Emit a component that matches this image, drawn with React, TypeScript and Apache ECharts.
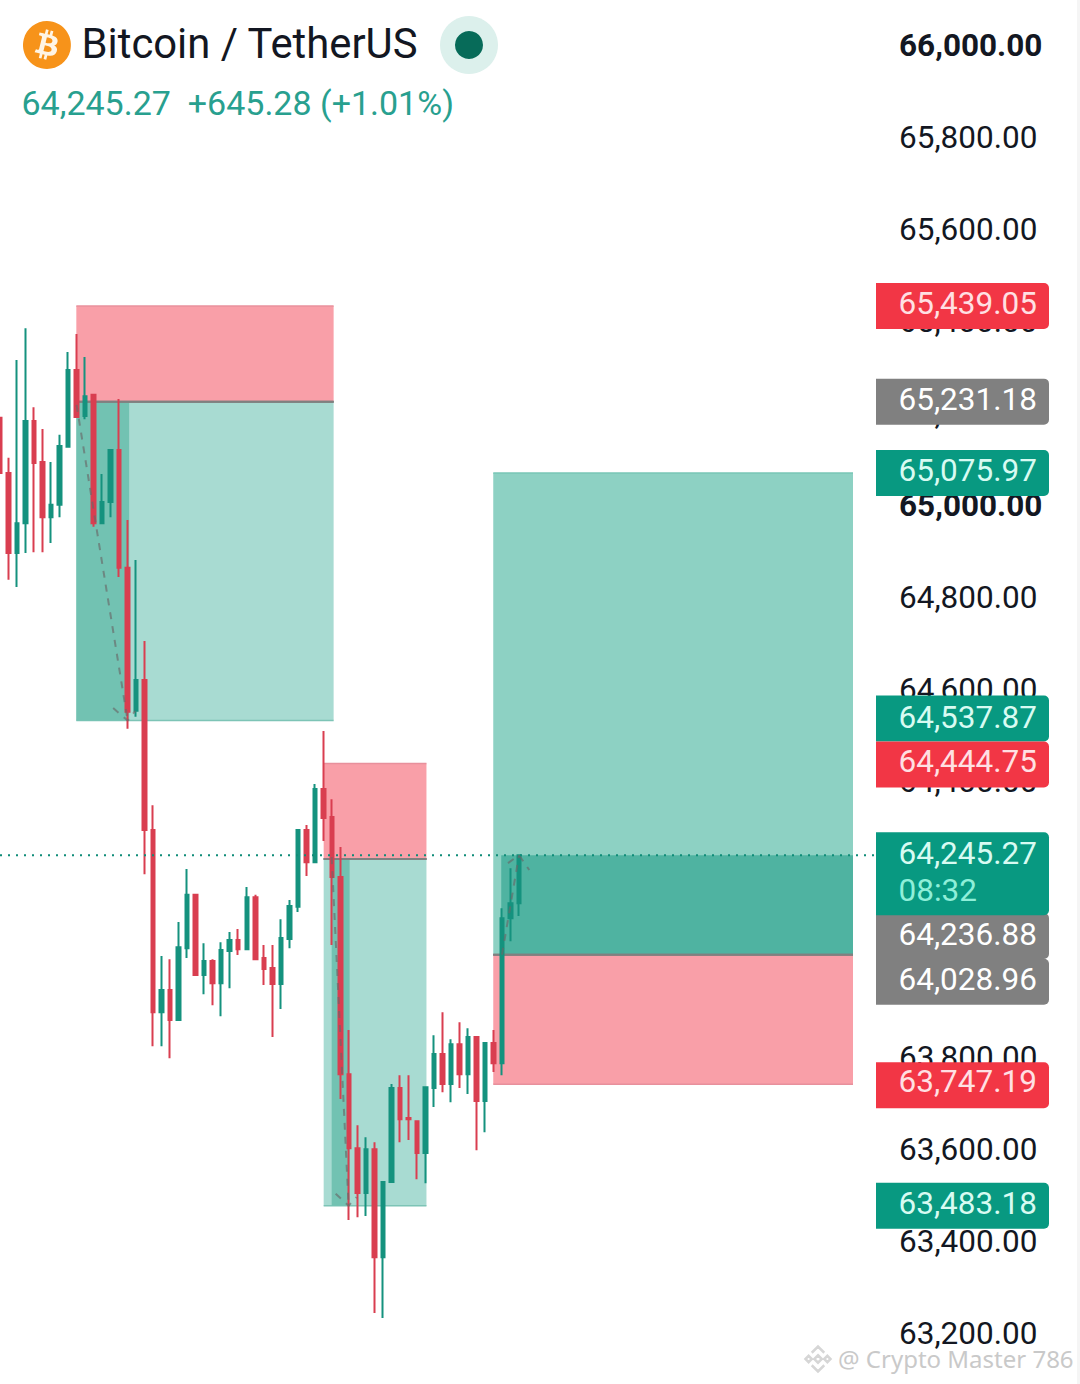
import React, { useEffect, useRef } from "react";
import * as echarts from "echarts";

const titleText = "Bitcoin / TetherUS";
const quoteText = "64,245.27  +645.28 (+1.01%)";
const watermarkText = "@ Crypto Master 786";
const currentPrice = 64245.27;
const countdown = "08:32";

const opens = [65196,65076,64902,64967,65189,65100,64980,65007,65133,65300,65200,65246,64967,65013,65126,64870,64559,64626,64300,63904,63952,63887,64043,64159,63985,64015,63967,64037,64061,64041,64154,64022,64000,63965,64063,64133,64300,64230,64389,64328,64198,63769,63608,63511,63606,63371,63535,63739,63674,63667,63598,63739,63813,63748,63834,63769,63850,63711,63837,63793,64108,64141];
const closes = [65076,64902,64967,65189,65098,64980,65007,65135,65300,65198,65243,64967,65013,65126,64870,64557,64626,64300,63904,63952,63887,64045,64159,63985,64015,63967,64039,64061,64041,64154,64019,63998,63965,64065,64135,64300,64230,64389,64326,64198,63769,63608,63511,63606,63371,63535,63739,63671,63671,63598,63741,63813,63748,63834,63769,63850,63711,63837,63793,64108,64141,64245.27];
const lows = [65076,64844,64828,64902,64904,64904,64924,64980,65133,65198,65193,64959,64967,64980,64850,64520,64546,64204,63830,63830,63804,63887,64022,63985,63943,63919,63895,63956,64028,64041,64019,63963,63850,63911,64043,64122,64200,64230,64276,64050,63715,63452,63458,63461,63250,63239,63535,63621,63626,63541,63532,63698,63730,63708,63739,63726,63604,63643,63774,63767,64058,64113];
const highs = [65196,65109,65322,65391,65219,65172,65100,65159,65339,65378,65328,65246,65074,65128,65237,64974,64887,64711,64354,64026,64019,64100,64215,64159,64054,64019,64056,64078,64085,64176,64159,64050,64050,64106,64148,64300,64311,64400,64515,64367,64263,63865,63658,63632,63621,63535,63748,63767,63767,63667,63741,63854,63904,63845,63882,63869,63850,63837,63865,64130,64217,64245.27];

// Position boxes: [from bar, to bar, upper price, lower price, kind]
const boxFrom = [8.97, 8.97, 8.97, 8.97, 38.04, 38.04, 38.98, 38.04, 57.97, 57.97, 58.91, 57.97];
const boxTo = [39.21, 39.21, 15.18, 39.21, 50.12, 50.12, 41.09, 50.12, 100.25, 100.25, 100.25, 100.25];
const boxUpper = [65439.05, 65231.18, 65231.18, 65231.18, 64444.75, 64236.88, 64236.88, 64236.88, 65075.97, 64028.96, currentPrice, 64028.96];
const boxLower = [65231.18, 64537.87, 64537.87, 65231.18, 64236.88, 63483.18, 63483.18, 64236.88, 64028.96, 63747.19, 64028.96, 64028.96];
const boxKind = [0, 1, 2, 5, 0, 1, 2, 5, 3, 0, 4, 5];

const arrowOneBars = [9, 15];
const arrowOnePrices = [65224, 64537.87];
const arrowOneHeadBars = [13.3, 15, 15.9];
const arrowOneHeadPrices = [64565, 64537.87, 64559];
const arrowTwoBars = [38.98, 40.97];
const arrowTwoPrices = [64241, 63483.18];
const arrowTwoHeadBars = [39.45, 40.97, 41.9];
const arrowTwoHeadPrices = [63509, 63483.18, 63502];
const arrowThreeBars = [59, 61];
const arrowThreePrices = [64028.96, currentPrice];
const arrowThreeHeadBars = [59.7, 61, 62.2];
const arrowThreeHeadPrices = [64228, currentPrice, 64213];

// Price tags on the axis: price, colour kind, shift off the price level, text nudge
const tagPrices = [65439.05, 65231.18, 65075.97, 64537.87, 64444.75, 64236.88, 64028.96, currentPrice, 63747.19, 63483.18];
const tagKinds = [1, 2, 0, 0, 1, 2, 2, 0, 1, 0];
const tagShifts = [0, 0, 0, -2, 1, 77, 27, 0, 1, 0];
const tagNudges = [-3, -2, -3, -1, -3, -2, -2, -2, -4, -2];

const PRICE_FONT = "Roboto";
const BITCOIN_PATH = "M23.638 14.904c-1.602 6.43-8.113 10.34-14.542 8.736C2.67 22.05-1.244 15.525.362 9.105 1.962 2.67 8.475-1.243 14.9.358c6.43 1.605 10.342 8.115 8.738 14.548v-.002zm-6.35-4.613c.24-1.59-.974-2.45-2.64-3.03l.54-2.153-1.315-.33-.525 2.107c-.345-.087-.705-.167-1.064-.25l.526-2.127-1.32-.33-.54 2.165c-.285-.067-.565-.132-.84-.2l-1.815-.45-.35 1.407s.975.225.955.236c.535.136.63.486.615.766l-1.477 5.92c-.075.166-.24.406-.614.314.015.02-.96-.24-.96-.24l-.66 1.51 1.71.426.93.242-.54 2.19 1.32.327.54-2.17c.36.1.705.19 1.05.273l-.51 2.154 1.32.33.545-2.19c2.24.427 3.93.257 4.64-1.774.57-1.637-.03-2.58-1.217-3.196.854-.193 1.5-.76 1.68-1.93h.01zm-3.01 4.22c-.404 1.64-3.157.75-4.05.53l.72-2.9c.896.23 3.757.67 3.33 2.37zm.41-4.24c-.37 1.49-2.662.735-3.405.55l.654-2.64c.744.18 3.137.524 2.75 2.084v.006z";
const BINANCE_PATH = "M7 7L12 2L17 7M12 9L15 12L12 15L9 12ZM2 12L4.5 9.5L7 12L4.5 14.5ZM17 12L19.5 9.5L22 12L19.5 14.5ZM7 17L12 22L17 17";
echarts.graphic.registerShape("btcLogo", echarts.graphic.extendPath(BITCOIN_PATH, {}));
echarts.graphic.registerShape("bnbLogo", echarts.graphic.extendPath(BINANCE_PATH, {}));

const money = (v: number) => v.toLocaleString("en-US", { minimumFractionDigits: 2, maximumFractionDigits: 2 });
const zipPoints = (xs: number[], ys: number[]) => xs.map((x, i) => [x, ys[i]]);

const boxFills = ["#F99FA8", "#A8DBD2", "#72C2B2", "#8DD1C3", "#4FB3A1", "none"];
const boxEdges = ["#E8909C", "#7DC4B6", "none", "#78C6B6", "none", "#808080"];
const tagFills = ["#089981", "#F23645", "#808080"];
const tagInk = ["#D8FBF2", "#FFE0E3", "#FFFFFF"];

function arrowSeries(points: number[][]) {
  return {
    type: "line",
    data: points,
    symbol: "none",
    silent: true,
    z: 4,
    clip: false,
    lineStyle: { color: "rgba(105,105,105,0.65)", width: 2, type: [7, 7] },
  };
}

function buildOption() {
  return {
    animation: false,
    backgroundColor: "#ffffff",
    grid: { left: -2.2, top: 48, width: 878.6, height: 1288, containLabel: false },
    xAxis: { type: "value", min: 0, max: 103, show: false },
    yAxis: {
      type: "value",
      position: "right",
      min: 63200,
      max: 66000,
      interval: 200,
      axisLine: { show: false },
      axisTick: { show: false },
      splitLine: { show: false },
      axisLabel: {
        margin: 22.6,
        color: "#131722",
        fontFamily: PRICE_FONT,
        fontSize: 31.5,
        padding: [0, 0, 6, 0],
        formatter: (v: number) => (v % 1000 === 0 ? `{b|${money(v)}}` : money(v)),
        rich: { b: { fontFamily: PRICE_FONT, fontSize: 31.5, fontWeight: 700, color: "#131722" } },
      },
    },
    series: [
      {
        type: "custom",
        silent: true,
        z: 1,
        clip: false,
        encode: { x: [0, 1], y: [2, 3] },
        data: boxFrom.map((f, i) => [f, boxTo[i], boxUpper[i], boxLower[i], boxKind[i]]),
        renderItem: (_p: any, api: any) => {
          const a = api.coord([api.value(0), api.value(2)]);
          const b = api.coord([api.value(1), api.value(3)]);
          const kind = api.value(4);
          const children: any[] = [];
          if (boxFills[kind] !== "none") {
            children.push({ type: "rect", shape: { x: a[0], y: a[1], width: b[0] - a[0], height: b[1] - a[1] }, style: { fill: boxFills[kind] } });
          }
          if (boxEdges[kind] !== "none") {
            const w = kind === 5 ? 2 : 1.5;
            children.push({ type: "line", shape: { x1: a[0], y1: a[1], x2: b[0], y2: a[1] }, style: { stroke: boxEdges[kind], lineWidth: w } });
            children.push({ type: "line", shape: { x1: a[0], y1: b[1], x2: b[0], y2: b[1] }, style: { stroke: boxEdges[kind], lineWidth: w } });
          }
          return { type: "group", children };
        },
      },
      {
        type: "candlestick",
        silent: true,
        z: 3,
        barWidth: 4,
        itemStyle: { color: "#15927E", color0: "#D93E50", borderColor: "#15927E", borderColor0: "#D93E50", borderWidth: 2 },
        data: opens.map((o, i) => [i, o, closes[i], lows[i], highs[i]]),
      },
      arrowSeries(zipPoints(arrowOneBars, arrowOnePrices)),
      arrowSeries(zipPoints(arrowOneHeadBars, arrowOneHeadPrices)),
      arrowSeries(zipPoints(arrowTwoBars, arrowTwoPrices)),
      arrowSeries(zipPoints(arrowTwoHeadBars, arrowTwoHeadPrices)),
      arrowSeries(zipPoints(arrowThreeBars, arrowThreePrices)),
      arrowSeries(zipPoints(arrowThreeHeadBars, arrowThreeHeadPrices)),
      {
        type: "line",
        silent: true,
        symbol: "none",
        z: 4,
        data: [[0, currentPrice], [103, currentPrice]],
        lineStyle: { color: "#0F8C78", width: 2, type: [2, 6] },
      },
      {
        type: "custom",
        silent: true,
        z: 6,
        clip: false,
        encode: { x: 2, y: 0 },
        data: tagPrices.map((p, i) => [p, tagKinds[i], 0, tagShifts[i], tagNudges[i]]),
        renderItem: (_p: any, api: any) => {
          const price = api.value(0);
          const kind = api.value(1);
          const y = api.coord([0, price])[1] + api.value(3);
          const isCurrent = price === currentPrice;
          const top = y - 23;
          const height = isCurrent ? 83 : 46;
          const children: any[] = [
            { type: "rect", shape: { x: 876, y: top, width: 173, height, r: [0, 5, 5, 0] }, style: { fill: tagFills[kind] } },
            { type: "text", x: 898.5, y: y + api.value(4), style: { text: money(price), fill: tagInk[kind], fontFamily: PRICE_FONT, fontSize: 31.5, verticalAlign: "middle", align: "left" } },
          ];
          if (isCurrent) {
            children.push({ type: "text", x: 898.5, y: y + 35, style: { text: countdown, fill: "#8FEFD9", fontFamily: PRICE_FONT, fontSize: 31.5, verticalAlign: "middle", align: "left" } });
          }
          return { type: "group", children };
        },
      },
    ],
    graphic: [
      { type: "rect", z: 10, shape: { x: 1077, y: 0, width: 3, height: 1384 }, style: { fill: "#F5F5F5" }, silent: true },
      { type: "circle", z: 10, shape: { cx: 47, cy: 45, r: 16 }, style: { fill: "#FFF5E6" }, silent: true },
      { type: "btcLogo", z: 11, x: 23, y: 21, scaleX: 2, scaleY: 2, style: { fill: "#F7931A" }, silent: true },
      { type: "text", z: 11, x: 81.5, y: 43, style: { text: titleText, fill: "#131722", fontFamily: "Roboto", fontSize: 41.8, verticalAlign: "middle", align: "left" }, silent: true },
      { type: "text", z: 11, x: 21.5, y: 103, style: { text: quoteText, fill: "#28A08F", fontFamily: "Roboto", fontSize: 34, verticalAlign: "middle", align: "left" }, silent: true },
      { type: "circle", z: 10, shape: { cx: 469, cy: 45, r: 29 }, style: { fill: "#DCF0EC" }, silent: true },
      { type: "circle", z: 11, shape: { cx: 469, cy: 45, r: 14 }, style: { fill: "#076B59" }, silent: true },
      { type: "bnbLogo", z: 11, x: 803, y: 1344, scaleX: 1.25, scaleY: 1.25, style: { fill: "none", stroke: "#D6D6D6", lineWidth: 2 }, silent: true },
      { type: "text", z: 11, x: 838, y: 1358, style: { text: watermarkText, fill: "#C9C9C9", fontFamily: "Noto Sans", fontSize: 24, verticalAlign: "middle", align: "left" }, silent: true },
    ],
  };
}

export default function App() {
  const ref = useRef<HTMLDivElement>(null);
  useEffect(() => {
    document.body.style.margin = "0";
    const chart = echarts.init(ref.current as HTMLDivElement, undefined, { renderer: "svg" });
    chart.setOption(buildOption() as any);
    return () => chart.dispose();
  }, []);
  return <div ref={ref} style={{ width: 1080, height: 1384 }} />;
}
